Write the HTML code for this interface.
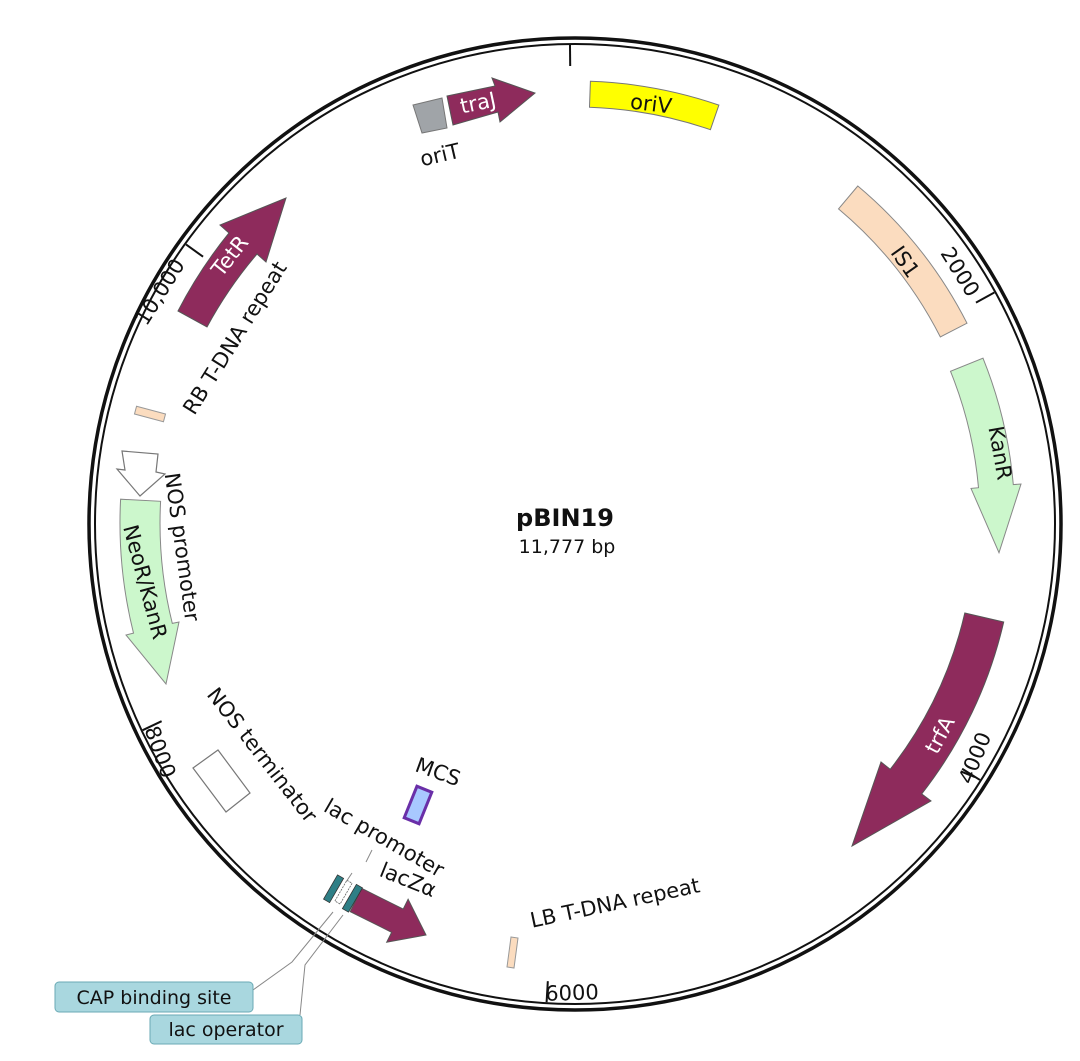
<!DOCTYPE html>
<html><head><meta charset="utf-8"><style>
html,body{margin:0;padding:0;background:#fff;}
svg{display:block;}
text{font-family:"DejaVu Sans","Liberation Sans",sans-serif;font-size:21px;fill:#111;}
.w{fill:#fff;}
</style></head><body>
<svg width="1080" height="1061" viewBox="0 0 1080 1061" xmlns="http://www.w3.org/2000/svg">
<circle cx="575" cy="524" r="486" fill="none" stroke="#111" stroke-width="3.5"/>
<circle cx="575" cy="524" r="480" fill="none" stroke="#111" stroke-width="2"/>
<g stroke="#111" stroke-width="2">
<line x1="575" y1="45" x2="575" y2="66" transform="rotate(-0.6 575 524)"/>
<line x1="575" y1="45" x2="575" y2="66" transform="rotate(61.1 575 524)"/>
<line x1="575" y1="45" x2="575" y2="66" transform="rotate(122.3 575 524)"/>
<line x1="575" y1="45" x2="575" y2="66" transform="rotate(183.4 575 524)"/>
<line x1="575" y1="45" x2="575" y2="66" transform="rotate(244.5 575 524)"/>
<line x1="575" y1="45" x2="575" y2="66" transform="rotate(305.7 575 524)"/>
</g>
<path d="M590.4,81.3 A442,442 0 0 1 718.9,105.1 L710.4,129.7 A416,416 0 0 0 589.5,107.2 Z" fill="#ffff00" stroke="#777" stroke-width="1"/>
<path d="M857.8,186 A440,440 0 0 1 967,323.2 L940.3,336.9 A410,410 0 0 0 838.5,208.9 Z" fill="#fbdcbf" stroke="#888" stroke-width="1"/>
<path d="M983,358.2 A440 440 0 0 1 1013.3,484.6 L1021,484 L999,552.7 L971,488.4 L978.5,487.7 A405 405 0 0 0 950.5,371.3 Z" fill="#ccf7cc" stroke="#888" stroke-width="1"/>
<path d="M1003.7,622 A440 440 0 0 1 921.7,793.9 L931,801 L852,846 L881,762 L890.2,769.3 A400 400 0 0 0 964.8,613 Z" fill="#8e2b5c" stroke="#555" stroke-width="1"/>
<polygon points="511,937 518,938 514,968 507,967" fill="#fbdcbf" stroke="#999" stroke-width="1"/>
<polygon points="361.8,888.4 403.2,909.1 408.1,899.2 426,935 386.7,942.2 391.6,932.3 350.2,911.6" fill="#8e2b5c" stroke="#555" stroke-width="1"/>
<rect x="330" y="875" width="7" height="28" fill="#2f7f86" stroke="#333" stroke-width="0.8" transform="rotate(30 334 889)"/>
<rect x="340" y="880" width="6" height="24" fill="#fff" stroke="#666" stroke-width="0.8" stroke-dasharray="2 1" transform="rotate(30 343 893)"/>
<rect x="349" y="884" width="7" height="28" fill="#2f7f86" stroke="#333" stroke-width="0.8" transform="rotate(30 352 898)"/>
<rect x="410" y="788" width="16" height="34" fill="#a8c8ff" stroke="#6a2fa8" stroke-width="3" transform="rotate(22 418 805)"/>
<polygon points="193,768 218,750 250,793 226,812" fill="#fff" stroke="#777" stroke-width="1.2"/>
<path d="M120.6,499.2 A455 455 0 0 0 133.5,633.1 L126,635 L166,684 L179,622 L172.3,623.4 A415 415 0 0 1 160.6,501.3 Z" fill="#ccf7cc" stroke="#888" stroke-width="1"/>
<polygon points="122,451 158,454 156,472 165,474 140,496 117,469 125,470" fill="#fff" stroke="#777" stroke-width="1.2"/>
<rect x="135" y="410" width="30" height="8" fill="#fbdcbf" stroke="#999" stroke-width="1" transform="rotate(15 150 414)"/>
<path d="M178,311 A452 452 0 0 1 229,233 L220,225 L286,198 L266,262 L257,254 A418 418 0 0 0 207,327 Z" fill="#8e2b5c" stroke="#555" stroke-width="1"/>
<polygon points="413,105 442,98 447,128 422,133" fill="#a0a4a8" stroke="#777" stroke-width="1"/>
<polygon points="447,96 495,86 492,78 535,93 500,122 498,112 453,125" fill="#8e2b5c" stroke="#555" stroke-width="1"/>
<g stroke="#888" stroke-width="1" fill="none">
<polyline points="333,912 292,962 253,990"/>
<polyline points="343,915 305,965 300,1015"/>
<line x1="372" y1="850" x2="366" y2="862"/>
<line x1="352" y1="873" x2="346" y2="882"/>
</g>
<rect x="55" y="982" width="198" height="30" rx="4" fill="#a9d7df" stroke="#6aaab5"/>
<text x="154" y="1004" text-anchor="middle" style="font-size:19px">CAP binding site</text>
<rect x="150" y="1015" width="152" height="29" rx="4" fill="#a9d7df" stroke="#6aaab5"/>
<text x="226" y="1036" text-anchor="middle" style="font-size:19px">lac operator</text>
<text x="565" y="526" text-anchor="middle" style="font-size:24px;font-weight:bold">pBIN19</text>
<text x="567" y="553" text-anchor="middle" style="font-size:19px">11,777 bp</text>
<g text-anchor="middle" dominant-baseline="central">
<text class="w" transform="translate(478 103) rotate(-12)">traJ</text>
<text transform="translate(440 155) rotate(-13)">oriT</text>
<text transform="translate(651 104) rotate(7)">oriV</text>
<text transform="translate(905 262) rotate(55)">IS1</text>
<text transform="translate(960 272) rotate(58)">2000</text>
<text transform="translate(1000 453) rotate(80)">KanR</text>
<text class="w" transform="translate(940 735) rotate(-62)">trfA</text>
<text transform="translate(975 758) rotate(-68)">4000</text>
<text transform="translate(615 903) rotate(-12)">LB T-DNA repeat</text>
<text transform="translate(572 993) rotate(-2)">6000</text>
<text transform="translate(408 880) rotate(22)">lacZα</text>
<text transform="translate(384 838) rotate(30)">lac promoter</text>
<text transform="translate(438 772) rotate(20)">MCS</text>
<text transform="translate(262 755) rotate(52)">NOS terminator</text>
<text transform="translate(160 752) rotate(70)">8000</text>
<text transform="translate(182 547) rotate(82)">NOS promoter</text>
<text transform="translate(145 582) rotate(75)">NeoR/KanR</text>
<text transform="translate(235 338) rotate(-58)">RB T-DNA repeat</text>
<text class="w" transform="translate(230 256) rotate(-52)">TetR</text>
<text transform="translate(160 292) rotate(-58)">10,000</text>
</g>
</svg>
</body></html>
